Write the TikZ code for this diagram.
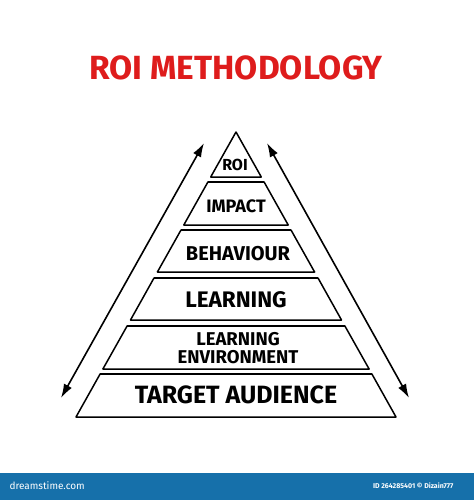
\documentclass[tikz,border=0pt]{standalone}
\usepackage{fontspec}
\setmainfont{Fira Sans}
\usetikzlibrary{arrows.meta}
\definecolor{titlered}{RGB}{222,28,28}
\definecolor{stockblue}{RGB}{22,112,170}

\begin{document}
\begin{tikzpicture}[x=1pt, y=-1pt,
  tierbox/.style={line width=1.5pt, line join=round},
  toprim/.style={line width=2.8pt},
  tiertext/.style={font=\bfseries\fontsize{#1}{#1}\selectfont, inner sep=0pt},
  side/.style={line width=1.6pt, {Latex[length=14pt,width=9pt]}-{Latex[length=14pt,width=9pt]}}]

\useasboundingbox (0,0) rectangle (474,500);

% Title
\node [tiertext=33.5, text=titlered] (title) at (236,68) {ROI METHODOLOGY};

% Pyramid, apex (236,132), base from 76 to 396 at y=417
\draw [tierbox] (236,132) -- (261.3,177) -- (210.7,177) -- cycle;

\draw [tierbox] (207.9,182) -- (264.1,182) -- (288.2,225) -- (183.8,225) -- cycle;
\draw [toprim] (207.9,182) -- (264.1,182);

\draw [tierbox] (181.0,230) -- (291.0,230) -- (314.6,272) -- (157.4,272) -- cycle;
\draw [toprim] (181.0,230) -- (291.0,230);

\draw [tierbox] (154.0,278) -- (318.0,278) -- (341.5,320) -- (130.5,320) -- cycle;
\draw [toprim] (154.0,278) -- (318.0,278);

\draw [tierbox] (127.1,326) -- (344.9,326) -- (369.1,369) -- (102.9,369) -- cycle;
\draw [toprim] (127.1,326) -- (344.9,326);

\draw [tierbox] (100.1,374) -- (371.9,374) -- (396,417) -- (76,417) -- cycle;
\draw [toprim] (100.1,374) -- (371.9,374);

% Tier labels
\node [tiertext=16] (roi) at (235,165) {ROI};
\node [tiertext=18] (impact) at (236,206) {IMPACT};
\node [tiertext=20] (behaviour) at (238,254) {BEHAVIOUR};
\node [tiertext=22.5] (learning) at (236,300) {LEARNING};
\node [font=\bfseries\fontsize{18.5}{18.5}\selectfont, inner sep=0pt, align=center] (environment) at (238,348) {LEARNING\\ENVIRONMENT};
\node [tiertext=25] (audience) at (236,395) {TARGET AUDIENCE};

% Side arrows
\coordinate (leftlow) at (61,398);
\coordinate (lefthigh) at (204,143);
\coordinate (righthigh) at (267,143);
\coordinate (rightlow) at (409,398);
\draw [side] (leftlow) -- (lefthigh);
\draw [side] (righthigh) -- (rightlow);

% Stock bar
\fill [stockblue] (0,473) rectangle (474,500);
\node [anchor=west, text=white, font=\fontsize{10}{10}\selectfont] (stock) at (6,486) {dreamstime.com};
\node [anchor=east, text=white, font=\bfseries\fontsize{7}{7}\selectfont] (credit) at (457,486) {ID 264285401 © Dizain777};

\end{tikzpicture}
\end{document}
